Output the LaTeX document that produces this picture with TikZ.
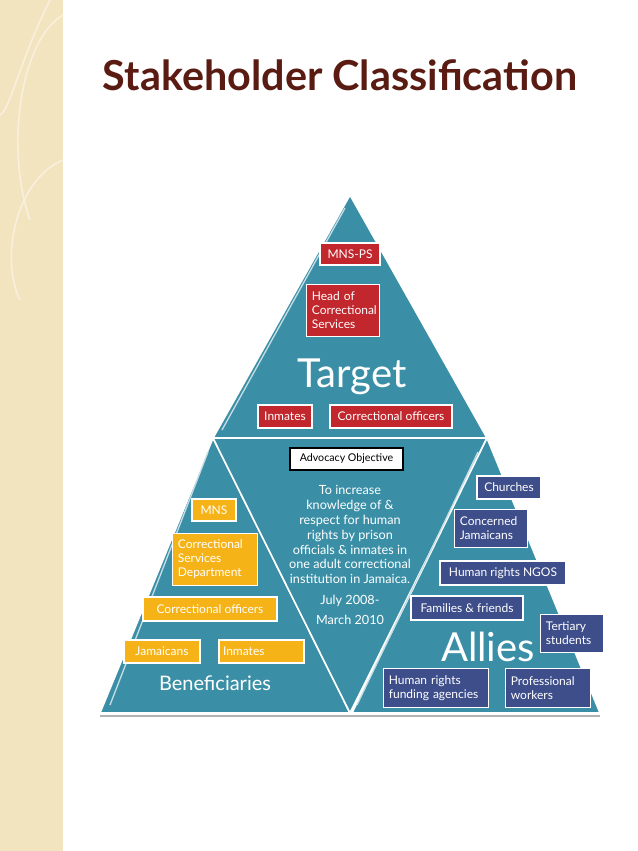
\documentclass[tikz,border=0pt]{standalone}
\usepackage{fontspec}
\setmainfont{Lato}
\begin{document}
\begin{tikzpicture}[x=0.75pt,y=-0.75pt,
  bx/.style={draw=white,line width=0.8pt,text=white,font=\fontsize{9}{10.5}\selectfont,inner sep=0pt,anchor=north west},
  rb/.style={bx,fill=tred},
  ob/.style={bx,fill=torange},
  pb/.style={bx,fill=tpurple},
  tri/.style={fill=teal1,draw=white,line width=1.2pt,line join=round},
  big/.style={text=white,font=\fontsize{30}{33}\selectfont}]
\definecolor{teal1}{HTML}{3A8FA6}
\definecolor{tred}{HTML}{C1272D}
\definecolor{torange}{HTML}{F6B317}
\definecolor{tpurple}{HTML}{3E4E8A}
\definecolor{beige}{HTML}{F3E4C0}
\definecolor{titlec}{HTML}{5A1C12}
\useasboundingbox (0,0) rectangle (638,851);
\fill[white] (0,0) rectangle (638,851);
\fill[beige] (0,0) rectangle (63,851);
\draw[white!45!beige,line width=1.2pt] (63,15) .. controls (20,40) and (5,150) .. (30,220);
\draw[white!45!beige,line width=1.2pt] (63,160) .. controls (15,180) and (0,260) .. (20,300);
\draw[white!45!beige,line width=1.2pt] (50,0) .. controls (20,60) and (10,110) .. (0,115);
\node[text=titlec,font=\bfseries\fontsize{31}{34}\selectfont] (title) at (340,75) {Stakeholder Classification};
% triangles
\draw[tri] (350,195) -- (213,438) -- (487,438) -- cycle;
\draw[tri] (213,438) -- (100,713) -- (350,713) -- cycle;
\draw[tri] (213,438) -- (487,438) -- (350,713) -- cycle;
\draw[tri] (487,438) -- (352,713) -- (600,713) -- cycle;
\draw[white!70!teal1,line width=1pt] (345,208) -- (222,430);
\draw[white!70!teal1,line width=1pt] (208,452) -- (110,705);
\draw[white!70!teal1,line width=1pt] (478,452) -- (357,705);
\draw[gray!60,line width=0.8pt] (100,716) -- (600,716);
% target
\node[rb,minimum width=60pt*0.75,minimum height=22pt*0.75,anchor=center] (mnsps) at (350,254) {MNS-PS};
\node[rb,text width=62*0.75pt,minimum height=52*0.75pt,inner xsep=4pt,align=left,anchor=north west,inner ysep=3pt] (head) at (306,284) {Head of\\Correctional\\Services};
\node[big] (target) at (352,377) {Target};
\node[rb,minimum width=54*0.75pt,minimum height=23*0.75pt,anchor=center] (tinm) at (285,416.5) {Inmates};
\node[rb,minimum width=122*0.75pt,minimum height=23*0.75pt,anchor=center] (tcor) at (391,416.5) {Correctional officers};
% objective
\node[draw=black,line width=1.2pt,fill=white,font=\fontsize{8}{9}\selectfont,minimum width=113*0.75pt,minimum height=22*0.75pt] (adv) at (346.5,459) {Advocacy Objective};
\node[text=white,font=\fontsize{9.5}{11.1}\selectfont,align=center,anchor=north] (obj) at (350,481) {To increase\\knowledge of \&\\respect for human\\rights by prison\\officials \& inmates in\\one adult correctional\\institution in Jamaica.};
\node[text=white,font=\fontsize{9.5}{15}\selectfont,align=center,anchor=north] (date) at (350,590) {July 2008-\\March 2010};
% beneficiaries
\node[ob,minimum width=44*0.75pt,minimum height=22*0.75pt,anchor=center] (mns) at (214,510) {MNS};
\node[ob,text width=74*0.75pt,minimum height=52*0.75pt,inner xsep=4pt,inner ysep=3pt,align=left] (csd) at (172,533) {Correctional\\Services\\Department};
\node[ob,minimum width=134*0.75pt,minimum height=24*0.75pt,anchor=center] (bcor) at (210,609) {Correctional officers};
\node[ob,minimum width=76*0.75pt,minimum height=23*0.75pt,anchor=center] (jam) at (162,651.5) {Jamaicans};
\node[ob,minimum width=85*0.75pt,minimum height=23*0.75pt,anchor=center,text width=77*0.75pt,align=left] (binm) at (261.5,651.5) {Inmates};
\node[text=white,font=\fontsize{15}{18}\selectfont] (ben) at (215,683) {Beneficiaries};
% allies
\node[pb,minimum width=64*0.75pt,minimum height=23*0.75pt,anchor=center] (chu) at (509,487.5) {Churches};
\node[pb,text width=62*0.75pt,minimum height=38*0.75pt,inner xsep=4pt,inner ysep=3pt,align=left] (conc) at (454,509) {Concerned\\Jamaicans};
\node[pb,minimum width=126*0.75pt,minimum height=24*0.75pt,anchor=center] (ngo) at (503,573) {Human rights NGOS};
\node[pb,minimum width=112*0.75pt,minimum height=24*0.75pt,anchor=center] (fam) at (467,608) {Families \& friends};
\node[pb,text width=52*0.75pt,minimum height=38*0.75pt,inner xsep=4pt,inner ysep=3pt,align=left] (ter) at (540,614) {Tertiary\\students};
\node[big] (allies) at (488,647) {Allies};
\node[pb,text width=94*0.75pt,minimum height=39*0.75pt,inner xsep=4pt,inner ysep=3pt,align=left] (fund) at (383,668) {Human rights\\funding agencies};
\node[pb,text width=74*0.75pt,minimum height=39*0.75pt,inner xsep=4pt,inner ysep=3pt,align=left] (prof) at (505,668) {Professional\\workers};
\end{tikzpicture}
\end{document}
